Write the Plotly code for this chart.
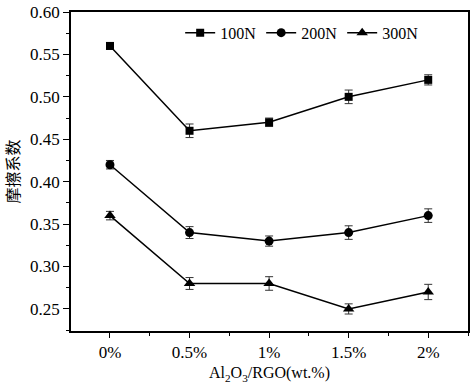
import plotly.graph_objects as go

categories = ["0%", "0.5%", "1%", "1.5%", "2%"]
y100 = [0.56, 0.46, 0.47, 0.50, 0.52]
e100 = [0.004, 0.008, 0.005, 0.008, 0.006]
y200 = [0.42, 0.34, 0.33, 0.34, 0.36]
e200 = [0.005, 0.007, 0.006, 0.008, 0.008]
y300 = [0.36, 0.28, 0.28, 0.25, 0.27]
e300 = [0.005, 0.007, 0.008, 0.006, 0.009]

xs = list(range(len(categories)))
font = "Liberation Serif, Times New Roman, serif"

fig = go.Figure()
for name, ys, es, sym, sz in [("100N", y100, e100, "square", 8),
                              ("200N", y200, e200, "circle", 9),
                              ("300N", y300, e300, "triangle-up", 10)]:
    fig.add_trace(go.Scatter(
        x=xs, y=ys, name=name, mode="lines+markers",
        line=dict(color="black", width=1.5),
        marker=dict(symbol=sym, size=sz, color="black"),
        error_y=dict(type="data", array=es, visible=True, color="#333333",
                     thickness=1, width=4),
    ))

fig.update_layout(
    width=474, height=386,
    margin=dict(l=71, r=6, t=12, b=55),
    plot_bgcolor="white", paper_bgcolor="white",
    font=dict(family=font, size=16, color="black"),
    showlegend=True,
    legend=dict(orientation="h", x=0.275, y=0.935, xanchor="left", yanchor="middle",
                bgcolor="rgba(0,0,0,0)", font=dict(size=16, family=font),
                itemwidth=30, tracegroupgap=0),
)
fig.update_xaxes(
    range=[-0.49, 4.5], tickvals=xs, ticktext=categories, automargin=False,
    showgrid=False, zeroline=False,
    showline=True, linecolor="black", linewidth=1.5, mirror=True,
    ticks="outside", ticklen=5, tickwidth=1.2, tickcolor="black",
    minor=dict(dtick=0.5, tick0=0, ticks="outside", ticklen=3, tickcolor="black", tickwidth=1),
    title=dict(text="Al<sub>2</sub>O<sub>3</sub>/RGO(wt.%)", font=dict(size=16, family=font), standoff=6),
    tickfont=dict(size=17, family=font),
)
fig.update_yaxes(
    range=[0.224, 0.60], dtick=0.05, tick0=0.25, tickformat=".2f", automargin=False,
    showgrid=False, zeroline=False,
    showline=True, linecolor="black", linewidth=1.5, mirror=True,
    ticks="outside", ticklen=6, tickwidth=1.2, tickcolor="black",
    minor=dict(dtick=0.025, tick0=0.25, ticks="outside", ticklen=3, tickcolor="black", tickwidth=1),
    title=dict(text="摩擦系数", font=dict(size=16, family="Noto Sans CJK SC"), standoff=6),
    tickfont=dict(size=17, family=font),
)

fig.write_html("out.html", config={"displayModeBar": False},
               post_script="document.body.style.margin='0';")
